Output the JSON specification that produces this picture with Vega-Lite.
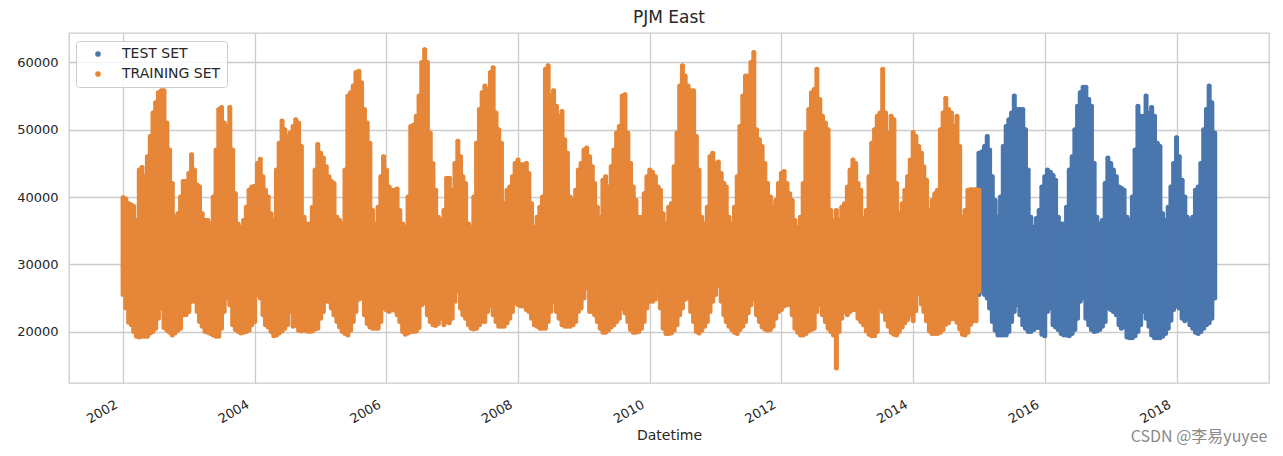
{"$schema":"https://vega.github.io/schema/vega-lite/v6.json","width":1200,"height":350,"autosize":{"type":"none"},"padding":{"left":69,"top":33,"right":14,"bottom":73},"background":"white",
"title":{"text":"PJM East","font":"DejaVu Sans","fontSize":17,"fontWeight":"normal","color":"#262626","offset":6},
"config":{"view":{"stroke":"#cccccc","strokeWidth":1.3},"font":"DejaVu Sans"},
"layer":[
{"data":{"name":"load"},"transform":[{"filter":"datum.set === 'TEST SET'"}],"mark":{"type":"rule","strokeWidth":5,"strokeCap":"round","color":"#4a76ae"},"encoding":{"x":{"field":"date","type":"temporal","scale":{"domain":["2001-03-07","2019-05-29"]},"axis":{"values":["2002-01-01","2004-01-01","2006-01-01","2008-01-01","2010-01-01","2012-01-01","2014-01-01","2016-01-01","2018-01-01"],"format":"%Y","labelAngle":-30,"labelAlign":"right","labelBaseline":"top","labelFontSize":13,"labelColor":"#262626","labelPadding":15,"labelOffset":-10,"ticks":false,"domain":false,"gridColor":"#cccccc","gridWidth":1.3,"title":"Datetime","titleFontSize":14,"titleFontWeight":"normal","titleColor":"#262626","titlePadding":3}},"y":{"field":"low","type":"quantitative","scale":{"domain":[12360,64380],"nice":false,"zero":false},"axis":{"values":[20000,30000,40000,50000,60000],"format":"d","labelFontSize":13,"labelColor":"#262626","labelPadding":11,"ticks":false,"domain":false,"gridColor":"#cccccc","gridWidth":1.3,"title":null}},"y2":{"field":"high"}}},
{"data":{"name":"load"},"transform":[{"filter":"datum.set === 'TRAINING SET'"}],"mark":{"type":"rule","strokeWidth":5,"strokeCap":"round","color":"#e58638"},"encoding":{"x":{"field":"date","type":"temporal"},"y":{"field":"low","type":"quantitative"},"y2":{"field":"high"}}},
{"data":{"name":"load"},"mark":{"type":"point","filled":true,"size":20,"opacity":1},"encoding":{"x":{"field":"date","type":"temporal"},"y":{"field":"high","type":"quantitative"},"color":{"field":"set","type":"nominal","scale":{"domain":["TEST SET","TRAINING SET"],"range":["#4a76ae","#e58638"]},"legend":{"title":null,"orient":"none","legendX":7,"legendY":8,"symbolType":"circle","symbolSize":32,"symbolOpacity":1,"symbolOffset":9,"labelFontSize":14,"labelColor":"#262626","labelOffset":17,"rowPadding":6,"padding":6,"fillColor":"rgba(255,255,255,0.8)","strokeColor":"#cccccc","cornerRadius":3}}}},
{"data":{"values":[{"date":"2019-05-20","value":4400,"note":"CSDN @李易yuyee"}]},"mark":{"type":"text","align":"right","baseline":"middle","font":"Noto Sans CJK SC","fontSize":16,"color":"#8a8a8a","clip":false},"encoding":{"x":{"field":"date","type":"temporal"},"y":{"field":"value","type":"quantitative"},"text":{"field":"note"}}}
],
"datasets":{"load":[
{"date":"2015-01-01","low":25500,"high":46500,"set":"TEST SET"},{"date":"2015-01-16","low":26000,"high":46700,"set":"TEST SET"},{"date":"2015-02-01","low":25500,"high":47500,"set":"TEST SET"},{"date":"2015-02-16","low":25000,"high":49000,"set":"TEST SET"},{"date":"2015-03-01","low":23500,"high":47000,"set":"TEST SET"},{"date":"2015-03-16","low":21500,"high":43000,"set":"TEST SET"},{"date":"2015-04-01","low":20200,"high":39500,"set":"TEST SET"},{"date":"2015-04-16","low":19500,"high":37000,"set":"TEST SET"},{"date":"2015-05-01","low":19500,"high":40000,"set":"TEST SET"},{"date":"2015-05-16","low":19500,"high":47500,"set":"TEST SET"},{"date":"2015-06-01","low":19500,"high":50500,"set":"TEST SET"},{"date":"2015-06-16","low":20000,"high":51500,"set":"TEST SET"},{"date":"2015-07-01","low":21500,"high":52500,"set":"TEST SET"},{"date":"2015-07-16","low":23000,"high":55000,"set":"TEST SET"},{"date":"2015-08-01","low":24000,"high":53000,"set":"TEST SET"},{"date":"2015-08-16","low":22500,"high":53000,"set":"TEST SET"},{"date":"2015-09-01","low":21000,"high":53000,"set":"TEST SET"},{"date":"2015-09-16","low":20500,"high":50000,"set":"TEST SET"},{"date":"2015-10-01","low":20000,"high":44000,"set":"TEST SET"},{"date":"2015-10-16","low":20000,"high":37000,"set":"TEST SET"},{"date":"2015-11-01","low":20300,"high":35500,"set":"TEST SET"},{"date":"2015-11-16","low":20600,"high":36800,"set":"TEST SET"},{"date":"2015-12-01","low":20600,"high":38000,"set":"TEST SET"},{"date":"2015-12-16","low":19600,"high":41500,"set":"TEST SET"},
{"date":"2016-01-01","low":19400,"high":43000,"set":"TEST SET"},{"date":"2016-01-16","low":23000,"high":44000,"set":"TEST SET"},{"date":"2016-02-01","low":23500,"high":43700,"set":"TEST SET"},{"date":"2016-02-16","low":21000,"high":43200,"set":"TEST SET"},{"date":"2016-03-01","low":20700,"high":42500,"set":"TEST SET"},{"date":"2016-03-16","low":20300,"high":37000,"set":"TEST SET"},{"date":"2016-04-01","low":19700,"high":36000,"set":"TEST SET"},{"date":"2016-04-16","low":19500,"high":36000,"set":"TEST SET"},{"date":"2016-05-01","low":19500,"high":38500,"set":"TEST SET"},{"date":"2016-05-16","low":19400,"high":44000,"set":"TEST SET"},{"date":"2016-06-01","low":19700,"high":46000,"set":"TEST SET"},{"date":"2016-06-16","low":20300,"high":50000,"set":"TEST SET"},{"date":"2016-07-01","low":22000,"high":53500,"set":"TEST SET"},{"date":"2016-07-16","low":24500,"high":55500,"set":"TEST SET"},{"date":"2016-08-01","low":25000,"high":56300,"set":"TEST SET"},{"date":"2016-08-16","low":22000,"high":56300,"set":"TEST SET"},{"date":"2016-09-01","low":21000,"high":54500,"set":"TEST SET"},{"date":"2016-09-16","low":20300,"high":53500,"set":"TEST SET"},{"date":"2016-10-01","low":20000,"high":45000,"set":"TEST SET"},{"date":"2016-10-16","low":20100,"high":37000,"set":"TEST SET"},{"date":"2016-11-01","low":20300,"high":36000,"set":"TEST SET"},{"date":"2016-11-16","low":20800,"high":36500,"set":"TEST SET"},{"date":"2016-12-01","low":21500,"high":42000,"set":"TEST SET"},{"date":"2016-12-16","low":23500,"high":45800,"set":"TEST SET"},
{"date":"2017-01-01","low":23300,"high":45000,"set":"TEST SET"},{"date":"2017-01-16","low":23000,"high":44000,"set":"TEST SET"},{"date":"2017-02-01","low":22500,"high":43000,"set":"TEST SET"},{"date":"2017-02-16","low":21000,"high":41500,"set":"TEST SET"},{"date":"2017-03-01","low":20500,"high":41300,"set":"TEST SET"},{"date":"2017-03-16","low":20700,"high":41000,"set":"TEST SET"},{"date":"2017-04-01","low":19200,"high":37000,"set":"TEST SET"},{"date":"2017-04-16","low":19100,"high":36500,"set":"TEST SET"},{"date":"2017-05-01","low":19100,"high":40000,"set":"TEST SET"},{"date":"2017-05-16","low":19400,"high":47000,"set":"TEST SET"},{"date":"2017-06-01","low":20000,"high":53500,"set":"TEST SET"},{"date":"2017-06-16","low":21000,"high":52000,"set":"TEST SET"},{"date":"2017-07-01","low":23000,"high":52000,"set":"TEST SET"},{"date":"2017-07-16","low":22000,"high":55000,"set":"TEST SET"},{"date":"2017-08-01","low":20800,"high":52500,"set":"TEST SET"},{"date":"2017-08-16","low":19500,"high":53300,"set":"TEST SET"},{"date":"2017-09-01","low":19100,"high":52000,"set":"TEST SET"},{"date":"2017-09-16","low":19100,"high":48000,"set":"TEST SET"},{"date":"2017-10-01","low":19100,"high":47500,"set":"TEST SET"},{"date":"2017-10-16","low":19300,"high":37500,"set":"TEST SET"},{"date":"2017-11-01","low":19700,"high":36500,"set":"TEST SET"},{"date":"2017-11-16","low":20500,"high":38500,"set":"TEST SET"},{"date":"2017-12-01","low":21700,"high":41500,"set":"TEST SET"},{"date":"2017-12-16","low":23300,"high":45000,"set":"TEST SET"},
{"date":"2018-01-01","low":23800,"high":48800,"set":"TEST SET"},{"date":"2018-01-16","low":23500,"high":46000,"set":"TEST SET"},{"date":"2018-02-01","low":22000,"high":42500,"set":"TEST SET"},{"date":"2018-02-16","low":21600,"high":40000,"set":"TEST SET"},{"date":"2018-03-01","low":22000,"high":37000,"set":"TEST SET"},{"date":"2018-03-16","low":21000,"high":36500,"set":"TEST SET"},{"date":"2018-04-01","low":20500,"high":37000,"set":"TEST SET"},{"date":"2018-04-16","low":19900,"high":41000,"set":"TEST SET"},{"date":"2018-05-01","low":19700,"high":41500,"set":"TEST SET"},{"date":"2018-05-16","low":20000,"high":45000,"set":"TEST SET"},{"date":"2018-06-01","low":20500,"high":50000,"set":"TEST SET"},{"date":"2018-06-16","low":21000,"high":53000,"set":"TEST SET"},{"date":"2018-07-01","low":21300,"high":56500,"set":"TEST SET"},{"date":"2018-07-16","low":22000,"high":54000,"set":"TEST SET"},{"date":"2018-08-01","low":25000,"high":49500,"set":"TEST SET"},
{"date":"2002-01-01","low":25500,"high":39900,"set":"TRAINING SET"},{"date":"2002-01-16","low":23500,"high":39700,"set":"TRAINING SET"},{"date":"2002-02-01","low":21400,"high":39000,"set":"TRAINING SET"},{"date":"2002-02-16","low":21000,"high":38800,"set":"TRAINING SET"},{"date":"2002-03-01","low":20000,"high":38600,"set":"TRAINING SET"},{"date":"2002-03-16","low":19300,"high":36500,"set":"TRAINING SET"},{"date":"2002-04-01","low":19200,"high":44000,"set":"TRAINING SET"},{"date":"2002-04-16","low":19300,"high":44400,"set":"TRAINING SET"},{"date":"2002-05-01","low":19300,"high":43000,"set":"TRAINING SET"},{"date":"2002-05-16","low":19300,"high":46000,"set":"TRAINING SET"},{"date":"2002-06-01","low":19800,"high":49000,"set":"TRAINING SET"},{"date":"2002-06-16","low":20000,"high":52500,"set":"TRAINING SET"},{"date":"2002-07-01","low":20500,"high":54000,"set":"TRAINING SET"},{"date":"2002-07-16","low":22000,"high":55500,"set":"TRAINING SET"},{"date":"2002-08-01","low":23500,"high":55800,"set":"TRAINING SET"},{"date":"2002-08-16","low":20600,"high":55800,"set":"TRAINING SET"},{"date":"2002-09-01","low":20200,"high":51000,"set":"TRAINING SET"},{"date":"2002-09-16","low":19900,"high":47000,"set":"TRAINING SET"},{"date":"2002-10-01","low":19500,"high":42000,"set":"TRAINING SET"},{"date":"2002-10-16","low":19800,"high":37000,"set":"TRAINING SET"},{"date":"2002-11-01","low":20200,"high":37500,"set":"TRAINING SET"},{"date":"2002-11-16","low":20500,"high":40000,"set":"TRAINING SET"},{"date":"2002-12-01","low":22500,"high":42300,"set":"TRAINING SET"},{"date":"2002-12-16","low":22500,"high":42300,"set":"TRAINING SET"},
{"date":"2003-01-01","low":23000,"high":43500,"set":"TRAINING SET"},{"date":"2003-01-16","low":24500,"high":46300,"set":"TRAINING SET"},{"date":"2003-02-01","low":24500,"high":44000,"set":"TRAINING SET"},{"date":"2003-02-16","low":23000,"high":41800,"set":"TRAINING SET"},{"date":"2003-03-01","low":21500,"high":41500,"set":"TRAINING SET"},{"date":"2003-03-16","low":20800,"high":37500,"set":"TRAINING SET"},{"date":"2003-04-01","low":20000,"high":36500,"set":"TRAINING SET"},{"date":"2003-04-16","low":19900,"high":36500,"set":"TRAINING SET"},{"date":"2003-05-01","low":19700,"high":36000,"set":"TRAINING SET"},{"date":"2003-05-16","low":19500,"high":40000,"set":"TRAINING SET"},{"date":"2003-06-01","low":19300,"high":47000,"set":"TRAINING SET"},{"date":"2003-06-16","low":19300,"high":53000,"set":"TRAINING SET"},{"date":"2003-07-01","low":20500,"high":53300,"set":"TRAINING SET"},{"date":"2003-07-16","low":23000,"high":51000,"set":"TRAINING SET"},{"date":"2003-08-01","low":25000,"high":50500,"set":"TRAINING SET"},{"date":"2003-08-16","low":24000,"high":53300,"set":"TRAINING SET"},{"date":"2003-09-01","low":21000,"high":47000,"set":"TRAINING SET"},{"date":"2003-09-16","low":20300,"high":40500,"set":"TRAINING SET"},{"date":"2003-10-01","low":20000,"high":36000,"set":"TRAINING SET"},{"date":"2003-10-16","low":19800,"high":35500,"set":"TRAINING SET"},{"date":"2003-11-01","low":19900,"high":36500,"set":"TRAINING SET"},{"date":"2003-11-16","low":20000,"high":38500,"set":"TRAINING SET"},{"date":"2003-12-01","low":20200,"high":41000,"set":"TRAINING SET"},{"date":"2003-12-16","low":21000,"high":41500,"set":"TRAINING SET"},
{"date":"2004-01-01","low":21500,"high":41600,"set":"TRAINING SET"},{"date":"2004-01-16","low":25500,"high":45000,"set":"TRAINING SET"},{"date":"2004-02-01","low":25000,"high":45600,"set":"TRAINING SET"},{"date":"2004-02-16","low":22500,"high":43000,"set":"TRAINING SET"},{"date":"2004-03-01","low":21000,"high":41000,"set":"TRAINING SET"},{"date":"2004-03-16","low":20700,"high":40000,"set":"TRAINING SET"},{"date":"2004-04-01","low":20000,"high":37500,"set":"TRAINING SET"},{"date":"2004-04-16","low":19400,"high":36500,"set":"TRAINING SET"},{"date":"2004-05-01","low":19500,"high":44000,"set":"TRAINING SET"},{"date":"2004-05-16","low":19800,"high":48000,"set":"TRAINING SET"},{"date":"2004-06-01","low":20100,"high":51300,"set":"TRAINING SET"},{"date":"2004-06-16","low":20500,"high":50000,"set":"TRAINING SET"},{"date":"2004-07-01","low":21000,"high":49000,"set":"TRAINING SET"},{"date":"2004-07-16","low":23000,"high":49500,"set":"TRAINING SET"},{"date":"2004-08-01","low":20800,"high":50500,"set":"TRAINING SET"},{"date":"2004-08-16","low":20900,"high":51500,"set":"TRAINING SET"},{"date":"2004-09-01","low":20200,"high":51000,"set":"TRAINING SET"},{"date":"2004-09-16","low":20100,"high":47500,"set":"TRAINING SET"},{"date":"2004-10-01","low":20200,"high":37000,"set":"TRAINING SET"},{"date":"2004-10-16","low":20100,"high":36000,"set":"TRAINING SET"},{"date":"2004-11-01","low":20000,"high":36000,"set":"TRAINING SET"},{"date":"2004-11-16","low":20100,"high":38500,"set":"TRAINING SET"},{"date":"2004-12-01","low":20400,"high":44000,"set":"TRAINING SET"},{"date":"2004-12-16","low":20500,"high":47800,"set":"TRAINING SET"},
{"date":"2005-01-01","low":22000,"high":46500,"set":"TRAINING SET"},{"date":"2005-01-16","low":23000,"high":45800,"set":"TRAINING SET"},{"date":"2005-02-01","low":24500,"high":44500,"set":"TRAINING SET"},{"date":"2005-02-16","low":24500,"high":43000,"set":"TRAINING SET"},{"date":"2005-03-01","low":23500,"high":42300,"set":"TRAINING SET"},{"date":"2005-03-16","low":22500,"high":42000,"set":"TRAINING SET"},{"date":"2005-04-01","low":21500,"high":37000,"set":"TRAINING SET"},{"date":"2005-04-16","low":20700,"high":36500,"set":"TRAINING SET"},{"date":"2005-05-01","low":20000,"high":36000,"set":"TRAINING SET"},{"date":"2005-05-16","low":19700,"high":44000,"set":"TRAINING SET"},{"date":"2005-06-01","low":19500,"high":55000,"set":"TRAINING SET"},{"date":"2005-06-16","low":20200,"high":55500,"set":"TRAINING SET"},{"date":"2005-07-01","low":21500,"high":56500,"set":"TRAINING SET"},{"date":"2005-07-16","low":23000,"high":58500,"set":"TRAINING SET"},{"date":"2005-08-01","low":24800,"high":58700,"set":"TRAINING SET"},{"date":"2005-08-16","low":25000,"high":57000,"set":"TRAINING SET"},{"date":"2005-09-01","low":22500,"high":53000,"set":"TRAINING SET"},{"date":"2005-09-16","low":21200,"high":51000,"set":"TRAINING SET"},{"date":"2005-10-01","low":20700,"high":48000,"set":"TRAINING SET"},{"date":"2005-10-16","low":20500,"high":38000,"set":"TRAINING SET"},{"date":"2005-11-01","low":20500,"high":36000,"set":"TRAINING SET"},{"date":"2005-11-16","low":20500,"high":38500,"set":"TRAINING SET"},{"date":"2005-12-01","low":21500,"high":43000,"set":"TRAINING SET"},{"date":"2005-12-16","low":23500,"high":46000,"set":"TRAINING SET"},
{"date":"2006-01-01","low":23200,"high":44000,"set":"TRAINING SET"},{"date":"2006-01-16","low":23000,"high":41500,"set":"TRAINING SET"},{"date":"2006-02-01","low":23200,"high":41000,"set":"TRAINING SET"},{"date":"2006-02-16","low":23200,"high":41000,"set":"TRAINING SET"},{"date":"2006-03-01","low":22500,"high":41200,"set":"TRAINING SET"},{"date":"2006-03-16","low":21500,"high":38000,"set":"TRAINING SET"},{"date":"2006-04-01","low":20000,"high":36000,"set":"TRAINING SET"},{"date":"2006-04-16","low":19600,"high":35500,"set":"TRAINING SET"},{"date":"2006-05-01","low":19800,"high":40000,"set":"TRAINING SET"},{"date":"2006-05-16","low":20000,"high":50500,"set":"TRAINING SET"},{"date":"2006-06-01","low":20000,"high":50700,"set":"TRAINING SET"},{"date":"2006-06-16","low":20100,"high":52000,"set":"TRAINING SET"},{"date":"2006-07-01","low":20600,"high":55000,"set":"TRAINING SET"},{"date":"2006-07-16","low":24000,"high":60000,"set":"TRAINING SET"},{"date":"2006-08-01","low":24300,"high":61900,"set":"TRAINING SET"},{"date":"2006-08-16","low":22500,"high":60000,"set":"TRAINING SET"},{"date":"2006-09-01","low":21500,"high":49500,"set":"TRAINING SET"},{"date":"2006-09-16","low":21000,"high":45000,"set":"TRAINING SET"},{"date":"2006-10-01","low":20900,"high":41000,"set":"TRAINING SET"},{"date":"2006-10-16","low":21200,"high":37000,"set":"TRAINING SET"},{"date":"2006-11-01","low":22000,"high":36500,"set":"TRAINING SET"},{"date":"2006-11-16","low":21000,"high":38000,"set":"TRAINING SET"},{"date":"2006-12-01","low":21500,"high":42800,"set":"TRAINING SET"},{"date":"2006-12-16","low":21300,"high":42800,"set":"TRAINING SET"},
{"date":"2007-01-01","low":22000,"high":41000,"set":"TRAINING SET"},{"date":"2007-01-16","low":24500,"high":45000,"set":"TRAINING SET"},{"date":"2007-02-01","low":26000,"high":48300,"set":"TRAINING SET"},{"date":"2007-02-16","low":23500,"high":46000,"set":"TRAINING SET"},{"date":"2007-03-01","low":22500,"high":43000,"set":"TRAINING SET"},{"date":"2007-03-16","low":22000,"high":42000,"set":"TRAINING SET"},{"date":"2007-04-01","low":21000,"high":36000,"set":"TRAINING SET"},{"date":"2007-04-16","low":20500,"high":35500,"set":"TRAINING SET"},{"date":"2007-05-01","low":20400,"high":40000,"set":"TRAINING SET"},{"date":"2007-05-16","low":20500,"high":48000,"set":"TRAINING SET"},{"date":"2007-06-01","low":21000,"high":53000,"set":"TRAINING SET"},{"date":"2007-06-16","low":21500,"high":55500,"set":"TRAINING SET"},{"date":"2007-07-01","low":21500,"high":56500,"set":"TRAINING SET"},{"date":"2007-07-16","low":23000,"high":56000,"set":"TRAINING SET"},{"date":"2007-08-01","low":23800,"high":58500,"set":"TRAINING SET"},{"date":"2007-08-16","low":22500,"high":59200,"set":"TRAINING SET"},{"date":"2007-09-01","low":21500,"high":52500,"set":"TRAINING SET"},{"date":"2007-09-16","low":20800,"high":50000,"set":"TRAINING SET"},{"date":"2007-10-01","low":20800,"high":48000,"set":"TRAINING SET"},{"date":"2007-10-16","low":20800,"high":39000,"set":"TRAINING SET"},{"date":"2007-11-01","low":21300,"high":41000,"set":"TRAINING SET"},{"date":"2007-11-16","low":22000,"high":41500,"set":"TRAINING SET"},{"date":"2007-12-01","low":23000,"high":43000,"set":"TRAINING SET"},{"date":"2007-12-16","low":24300,"high":45000,"set":"TRAINING SET"},
{"date":"2008-01-01","low":24000,"high":45500,"set":"TRAINING SET"},{"date":"2008-01-16","low":23800,"high":44800,"set":"TRAINING SET"},{"date":"2008-02-01","low":23800,"high":44800,"set":"TRAINING SET"},{"date":"2008-02-16","low":23300,"high":45000,"set":"TRAINING SET"},{"date":"2008-03-01","low":23000,"high":43500,"set":"TRAINING SET"},{"date":"2008-03-16","low":22000,"high":39000,"set":"TRAINING SET"},{"date":"2008-04-01","low":21000,"high":35500,"set":"TRAINING SET"},{"date":"2008-04-16","low":20800,"high":37000,"set":"TRAINING SET"},{"date":"2008-05-01","low":20500,"high":38500,"set":"TRAINING SET"},{"date":"2008-05-16","low":20500,"high":40000,"set":"TRAINING SET"},{"date":"2008-06-01","low":20500,"high":59000,"set":"TRAINING SET"},{"date":"2008-06-16","low":21500,"high":59500,"set":"TRAINING SET"},{"date":"2008-07-01","low":23000,"high":55000,"set":"TRAINING SET"},{"date":"2008-07-16","low":24500,"high":55800,"set":"TRAINING SET"},{"date":"2008-08-01","low":23000,"high":53500,"set":"TRAINING SET"},{"date":"2008-08-16","low":22000,"high":52000,"set":"TRAINING SET"},{"date":"2008-09-01","low":21000,"high":52700,"set":"TRAINING SET"},{"date":"2008-09-16","low":20800,"high":48500,"set":"TRAINING SET"},{"date":"2008-10-01","low":20800,"high":46500,"set":"TRAINING SET"},{"date":"2008-10-16","low":20800,"high":40000,"set":"TRAINING SET"},{"date":"2008-11-01","low":21000,"high":39500,"set":"TRAINING SET"},{"date":"2008-11-16","low":21500,"high":41000,"set":"TRAINING SET"},{"date":"2008-12-01","low":23000,"high":44000,"set":"TRAINING SET"},{"date":"2008-12-16","low":23500,"high":45000,"set":"TRAINING SET"},
{"date":"2009-01-01","low":25000,"high":47000,"set":"TRAINING SET"},{"date":"2009-01-16","low":26500,"high":47300,"set":"TRAINING SET"},{"date":"2009-02-01","low":23000,"high":46000,"set":"TRAINING SET"},{"date":"2009-02-16","low":23000,"high":44500,"set":"TRAINING SET"},{"date":"2009-03-01","low":22500,"high":42000,"set":"TRAINING SET"},{"date":"2009-03-16","low":21500,"high":38500,"set":"TRAINING SET"},{"date":"2009-04-01","low":20500,"high":37000,"set":"TRAINING SET"},{"date":"2009-04-16","low":19900,"high":42500,"set":"TRAINING SET"},{"date":"2009-05-01","low":19900,"high":43000,"set":"TRAINING SET"},{"date":"2009-05-16","low":20200,"high":41500,"set":"TRAINING SET"},{"date":"2009-06-01","low":20700,"high":44500,"set":"TRAINING SET"},{"date":"2009-06-16","low":21000,"high":47000,"set":"TRAINING SET"},{"date":"2009-07-01","low":21500,"high":49500,"set":"TRAINING SET"},{"date":"2009-07-16","low":22000,"high":50500,"set":"TRAINING SET"},{"date":"2009-08-01","low":23500,"high":55000,"set":"TRAINING SET"},{"date":"2009-08-16","low":22800,"high":55200,"set":"TRAINING SET"},{"date":"2009-09-01","low":21500,"high":49500,"set":"TRAINING SET"},{"date":"2009-09-16","low":20300,"high":45000,"set":"TRAINING SET"},{"date":"2009-10-01","low":19900,"high":41500,"set":"TRAINING SET"},{"date":"2009-10-16","low":19900,"high":39500,"set":"TRAINING SET"},{"date":"2009-11-01","low":20000,"high":37000,"set":"TRAINING SET"},{"date":"2009-11-16","low":20500,"high":37000,"set":"TRAINING SET"},{"date":"2009-12-01","low":21500,"high":40500,"set":"TRAINING SET"},{"date":"2009-12-16","low":23500,"high":43000,"set":"TRAINING SET"},
{"date":"2010-01-01","low":24500,"high":44000,"set":"TRAINING SET"},{"date":"2010-01-16","low":24500,"high":43700,"set":"TRAINING SET"},{"date":"2010-02-01","low":24800,"high":43000,"set":"TRAINING SET"},{"date":"2010-02-16","low":26500,"high":41500,"set":"TRAINING SET"},{"date":"2010-03-01","low":23500,"high":41000,"set":"TRAINING SET"},{"date":"2010-03-16","low":20500,"high":37500,"set":"TRAINING SET"},{"date":"2010-04-01","low":19700,"high":36000,"set":"TRAINING SET"},{"date":"2010-04-16","low":19700,"high":38500,"set":"TRAINING SET"},{"date":"2010-05-01","low":19800,"high":39000,"set":"TRAINING SET"},{"date":"2010-05-16","low":20200,"high":44500,"set":"TRAINING SET"},{"date":"2010-06-01","low":21000,"high":49500,"set":"TRAINING SET"},{"date":"2010-06-16","low":22500,"high":56500,"set":"TRAINING SET"},{"date":"2010-07-01","low":23500,"high":59500,"set":"TRAINING SET"},{"date":"2010-07-16","low":24800,"high":58000,"set":"TRAINING SET"},{"date":"2010-08-01","low":25000,"high":56500,"set":"TRAINING SET"},{"date":"2010-08-16","low":23000,"high":55800,"set":"TRAINING SET"},{"date":"2010-09-01","low":21500,"high":55800,"set":"TRAINING SET"},{"date":"2010-09-16","low":20000,"high":49000,"set":"TRAINING SET"},{"date":"2010-10-01","low":19800,"high":44000,"set":"TRAINING SET"},{"date":"2010-10-16","low":20200,"high":37000,"set":"TRAINING SET"},{"date":"2010-11-01","low":20800,"high":36000,"set":"TRAINING SET"},{"date":"2010-11-16","low":21500,"high":38500,"set":"TRAINING SET"},{"date":"2010-12-01","low":23000,"high":46000,"set":"TRAINING SET"},{"date":"2010-12-16","low":24500,"high":46500,"set":"TRAINING SET"},
{"date":"2011-01-01","low":25500,"high":45000,"set":"TRAINING SET"},{"date":"2011-01-16","low":26800,"high":45200,"set":"TRAINING SET"},{"date":"2011-02-01","low":24500,"high":43500,"set":"TRAINING SET"},{"date":"2011-02-16","low":22500,"high":42000,"set":"TRAINING SET"},{"date":"2011-03-01","low":21500,"high":41500,"set":"TRAINING SET"},{"date":"2011-03-16","low":20800,"high":37000,"set":"TRAINING SET"},{"date":"2011-04-01","low":20300,"high":36000,"set":"TRAINING SET"},{"date":"2011-04-16","low":19900,"high":38500,"set":"TRAINING SET"},{"date":"2011-05-01","low":19700,"high":43000,"set":"TRAINING SET"},{"date":"2011-05-16","low":20300,"high":50500,"set":"TRAINING SET"},{"date":"2011-06-01","low":20800,"high":55000,"set":"TRAINING SET"},{"date":"2011-06-16","low":21500,"high":58000,"set":"TRAINING SET"},{"date":"2011-07-01","low":22800,"high":58000,"set":"TRAINING SET"},{"date":"2011-07-16","low":24000,"high":60000,"set":"TRAINING SET"},{"date":"2011-08-01","low":24800,"high":61500,"set":"TRAINING SET"},{"date":"2011-08-16","low":22500,"high":50000,"set":"TRAINING SET"},{"date":"2011-09-01","low":21500,"high":48500,"set":"TRAINING SET"},{"date":"2011-09-16","low":20700,"high":47500,"set":"TRAINING SET"},{"date":"2011-10-01","low":20400,"high":45000,"set":"TRAINING SET"},{"date":"2011-10-16","low":20200,"high":42000,"set":"TRAINING SET"},{"date":"2011-11-01","low":20300,"high":40000,"set":"TRAINING SET"},{"date":"2011-11-16","low":20800,"high":38500,"set":"TRAINING SET"},{"date":"2011-12-01","low":22000,"high":39500,"set":"TRAINING SET"},{"date":"2011-12-16","low":23000,"high":42000,"set":"TRAINING SET"},
{"date":"2012-01-01","low":23300,"high":43500,"set":"TRAINING SET"},{"date":"2012-01-16","low":23800,"high":43800,"set":"TRAINING SET"},{"date":"2012-02-01","low":24000,"high":42000,"set":"TRAINING SET"},{"date":"2012-02-16","low":24000,"high":40500,"set":"TRAINING SET"},{"date":"2012-03-01","low":22500,"high":39500,"set":"TRAINING SET"},{"date":"2012-03-16","low":20500,"high":36500,"set":"TRAINING SET"},{"date":"2012-04-01","low":19900,"high":35500,"set":"TRAINING SET"},{"date":"2012-04-16","low":19500,"high":37000,"set":"TRAINING SET"},{"date":"2012-05-01","low":19500,"high":42000,"set":"TRAINING SET"},{"date":"2012-05-16","low":19700,"high":49500,"set":"TRAINING SET"},{"date":"2012-06-01","low":20100,"high":53000,"set":"TRAINING SET"},{"date":"2012-06-16","low":20300,"high":55500,"set":"TRAINING SET"},{"date":"2012-07-01","low":20500,"high":56000,"set":"TRAINING SET"},{"date":"2012-07-16","low":23000,"high":59000,"set":"TRAINING SET"},{"date":"2012-08-01","low":24000,"high":54500,"set":"TRAINING SET"},{"date":"2012-08-16","low":22500,"high":52000,"set":"TRAINING SET"},{"date":"2012-09-01","low":21500,"high":51000,"set":"TRAINING SET"},{"date":"2012-09-16","low":20500,"high":50000,"set":"TRAINING SET"},{"date":"2012-10-01","low":20000,"high":38000,"set":"TRAINING SET"},{"date":"2012-10-16","low":19500,"high":36500,"set":"TRAINING SET"},{"date":"2012-11-01","low":14600,"high":38000,"set":"TRAINING SET"},{"date":"2012-11-16","low":20000,"high":36500,"set":"TRAINING SET"},{"date":"2012-12-01","low":22000,"high":38500,"set":"TRAINING SET"},{"date":"2012-12-16","low":23000,"high":39000,"set":"TRAINING SET"},
{"date":"2013-01-01","low":22500,"high":41500,"set":"TRAINING SET"},{"date":"2013-01-16","low":23000,"high":44000,"set":"TRAINING SET"},{"date":"2013-02-01","low":23300,"high":45500,"set":"TRAINING SET"},{"date":"2013-02-16","low":23300,"high":45000,"set":"TRAINING SET"},{"date":"2013-03-01","low":22000,"high":42000,"set":"TRAINING SET"},{"date":"2013-03-16","low":21500,"high":41000,"set":"TRAINING SET"},{"date":"2013-04-01","low":21000,"high":36800,"set":"TRAINING SET"},{"date":"2013-04-16","low":20100,"high":38000,"set":"TRAINING SET"},{"date":"2013-05-01","low":19600,"high":43000,"set":"TRAINING SET"},{"date":"2013-05-16","low":19400,"high":48000,"set":"TRAINING SET"},{"date":"2013-06-01","low":19400,"high":50000,"set":"TRAINING SET"},{"date":"2013-06-16","low":20000,"high":52000,"set":"TRAINING SET"},{"date":"2013-07-01","low":23500,"high":52500,"set":"TRAINING SET"},{"date":"2013-07-16","low":23000,"high":59000,"set":"TRAINING SET"},{"date":"2013-08-01","low":21800,"high":52500,"set":"TRAINING SET"},{"date":"2013-08-16","low":20800,"high":49500,"set":"TRAINING SET"},{"date":"2013-09-01","low":19900,"high":52000,"set":"TRAINING SET"},{"date":"2013-09-16","low":19600,"high":51500,"set":"TRAINING SET"},{"date":"2013-10-01","low":19500,"high":42000,"set":"TRAINING SET"},{"date":"2013-10-16","low":20000,"high":37500,"set":"TRAINING SET"},{"date":"2013-11-01","low":20700,"high":39000,"set":"TRAINING SET"},{"date":"2013-11-16","low":21300,"high":41000,"set":"TRAINING SET"},{"date":"2013-12-01","low":21800,"high":43000,"set":"TRAINING SET"},{"date":"2013-12-16","low":22500,"high":45500,"set":"TRAINING SET"},
{"date":"2014-01-01","low":21600,"high":49600,"set":"TRAINING SET"},{"date":"2014-01-16","low":23100,"high":49000,"set":"TRAINING SET"},{"date":"2014-02-01","low":25600,"high":47500,"set":"TRAINING SET"},{"date":"2014-02-16","low":24100,"high":46500,"set":"TRAINING SET"},{"date":"2014-03-01","low":23000,"high":44500,"set":"TRAINING SET"},{"date":"2014-03-16","low":21600,"high":42500,"set":"TRAINING SET"},{"date":"2014-04-01","low":20100,"high":38000,"set":"TRAINING SET"},{"date":"2014-04-16","low":19700,"high":39500,"set":"TRAINING SET"},{"date":"2014-05-01","low":19700,"high":40500,"set":"TRAINING SET"},{"date":"2014-05-16","low":19700,"high":41000,"set":"TRAINING SET"},{"date":"2014-06-01","low":19900,"high":50000,"set":"TRAINING SET"},{"date":"2014-06-16","low":20300,"high":52500,"set":"TRAINING SET"},{"date":"2014-07-01","low":21100,"high":54700,"set":"TRAINING SET"},{"date":"2014-07-16","low":21300,"high":53000,"set":"TRAINING SET"},{"date":"2014-08-01","low":21900,"high":52500,"set":"TRAINING SET"},{"date":"2014-08-16","low":21900,"high":50500,"set":"TRAINING SET"},{"date":"2014-09-01","low":21400,"high":52000,"set":"TRAINING SET"},{"date":"2014-09-16","low":20400,"high":47500,"set":"TRAINING SET"},{"date":"2014-10-01","low":19600,"high":37000,"set":"TRAINING SET"},{"date":"2014-10-16","low":19500,"high":38000,"set":"TRAINING SET"},{"date":"2014-11-01","low":19900,"high":41000,"set":"TRAINING SET"},{"date":"2014-11-16","low":21100,"high":41100,"set":"TRAINING SET"},{"date":"2014-12-01","low":21600,"high":41100,"set":"TRAINING SET"},{"date":"2014-12-16","low":21600,"high":41100,"set":"TRAINING SET"},{"date":"2015-01-01","low":26000,"high":41000,"set":"TRAINING SET"}
]}}
